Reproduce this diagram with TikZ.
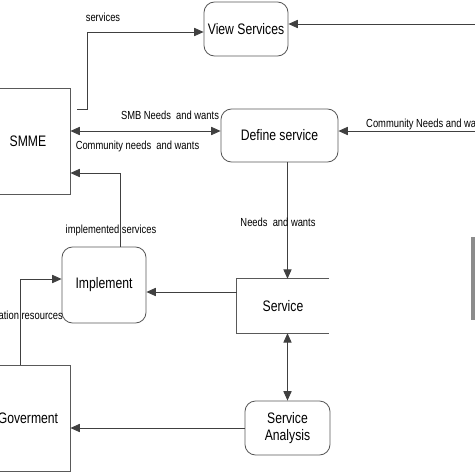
\documentclass[tikz,border=0pt]{standalone}
\usepackage{fontspec}
\setmainfont{Liberation Sans}[FakeStretch=0.8]
\usetikzlibrary{arrows.meta,calc,positioning}
\tikzset{
    flow/.style={draw=black!75,line width=0.7pt,-{Triangle[length=8pt,width=7pt]}},
    flow both/.style={flow,{Triangle[length=8pt,width=7pt]}-{Triangle[length=8pt,width=7pt]}},
    entity/.style={draw=black!65,line width=0.7pt,inner sep=0pt,font=\fontsize{13}{15}\selectfont},
    process/.style={entity,rounded corners=9pt,align=center},
    lbl/.style={inner sep=0pt,font=\fontsize{10}{12}\selectfont}
}
\begin{document}
\begin{tikzpicture}[x=0.03cm,y=-0.03cm]
    \useasboundingbox (0,0) rectangle (474,474);

    \node[entity,minimum width=2.52cm,minimum height=3.18cm] (smme) at (28,141) {SMME};
    \node[entity,minimum width=2.52cm,minimum height=3.18cm] (gov) at (28,418) {Goverment};
    \node[process,minimum width=2.52cm,minimum height=1.62cm] (view) at (246,29) {View Services};
    \node[process,minimum width=3.51cm,minimum height=1.59cm] (define) at (279.5,135.5) {Define service};
    \node[process,minimum width=2.52cm,minimum height=2.28cm] (implement) at (104,285) {Implement};
    \node[process,minimum width=2.55cm,minimum height=1.62cm] (analysis) at (287.5,428) {Service\\Analysis};
    % store, open on the right
    \node[inner sep=0pt,minimum width=2.76cm,minimum height=1.62cm,font=\fontsize{13}{15}\selectfont] (service) at (283,306) {Service};
    \draw[draw=black!65,line width=0.7pt] (service.north east) -- (service.north west)
        -- (service.south west) -- (service.south east);

    \coordinate (s1) at (77,109);
    \coordinate (rv) at (480,24);
    \coordinate (rd) at (480,131);

    \draw[flow] (s1) -- ++(10,0) |- ($(view.west)+(0,3)$);
    \draw[flow] (rv) -- (view.east |- rv);
    \draw[flow both] (smme.east |- rd) -- (define.west |- rd);
    \draw[flow] (rd) -- (define.east |- rd);
    \draw[flow] ($(implement.north)+(16,0)$) |- ($(smme.east)+(0,32)$);
    \draw[flow] (define.south -| analysis) -- (service.north -| analysis);
    \draw[flow both] (service.south -| analysis) -- (analysis.north);
    \draw[flow] ($(service.west)+(0,-14)$) coordinate (sw) -- (implement.east |- sw);
    \draw[flow] (analysis.west) -- (gov.east |- analysis.west);
    \draw[flow] (gov.north -| 20,0) |- ($(implement.west)+(0,-6)$);

    \node[lbl] (l1) at (103,17) {services};
    \node[lbl] (l2) at (170,115) {SMB Needs\ \ and wants};
    \node[lbl] (l3) at (137.5,146) {Community needs\ \ and wants};
    \node[lbl,anchor=west] (l4) at (366,124) {Community Needs and wants};
    \node[lbl] (l5) at (111,230) {implemented services};
    \node[lbl] (l6) at (278,222) {Needs\ \ and wants};
    \node[lbl,anchor=east] (l7) at (63,316) {Implementation resources};

    \fill[black!45] (471,237) rectangle (476,320);
\end{tikzpicture}
\end{document}
